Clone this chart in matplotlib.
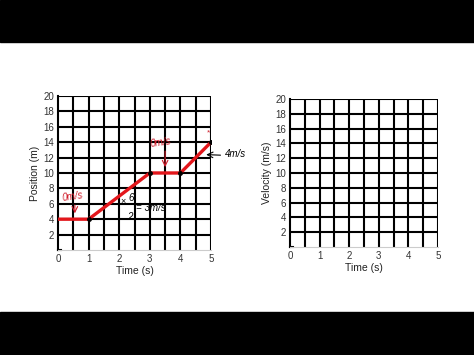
import matplotlib
matplotlib.use("Agg")
import matplotlib.pyplot as plt
from matplotlib.patches import Rectangle
import numpy as np

plt.rcParams['font.family'] = ['Liberation Sans', 'DejaVu Sans']

# position-time data (red line) and marked points
time_s = [0, 1, 3, 4, 5]
position_m = [4, 4, 10, 10, 14]
dot_t = [1, 3, 4, 5]
dot_p = [4, 10, 10, 14]

x_ticks = [0, 1, 2, 3, 4, 5]
y_ticks = [2, 4, 6, 8, 10, 12, 14, 16, 18, 20]

fig = plt.figure(figsize=(4.74, 3.55), dpi=100)
fig.patch.set_facecolor('white')

# black letterbox bars
fig.add_artist(Rectangle((0, 0.8817), 1, 0.1183, transform=fig.transFigure, color='black', zorder=10))
fig.add_artist(Rectangle((0, 0), 1, 0.1211, transform=fig.transFigure, color='black', zorder=10))


def grid_axes(rect, ylabel):
    ax = fig.add_axes(rect)
    ax.set_xlim(0, 5)
    ax.set_ylim(0, 20)
    for xv in np.arange(0.5, 5.01, 0.5):
        ax.axvline(xv, color='black', lw=1.5, zorder=1)
    for yv in y_ticks:
        ax.axhline(yv, color='black', lw=1.5, zorder=1)
    for s in ['top', 'right']:
        ax.spines[s].set_visible(False)
    ax.spines['left'].set_linewidth(1.5)
    ax.spines['bottom'].set_color('#cccccc')
    ax.spines['bottom'].set_linewidth(0.8)
    ax.plot([0, 0.1], [0, 0], color='black', lw=1.5, clip_on=False)
    ax.set_xticks(x_ticks)
    ax.set_yticks(y_ticks)
    ax.tick_params(length=0, labelsize=7, labelcolor='#333333', pad=3)
    ax.set_xlabel('Time (s)', fontsize=7.5, color='#222222', labelpad=1)
    ax.set_ylabel(ylabel, fontsize=7.5, color='#222222', labelpad=2)
    return ax


ax1 = grid_axes([0.1224, 0.2958, 0.3228, 0.4338], 'Position (m)')
ax2 = grid_axes([0.6118, 0.3042, 0.3122, 0.4169], 'Velocity (m/s)')

# red position line
ax1.plot(time_s, position_m, color='#e3161b', lw=2.4, zorder=3, solid_capstyle='butt')
ax1.plot(dot_t, dot_p, 'o', color='black', ms=2.5, zorder=4)

# handwritten style notes
red = '#d01c2a'
ax1.text(0.1, 6.4, '0m/s', color=red, fontsize=7, rotation=8, style='italic', zorder=5)
ax1.annotate('', xy=(0.55, 4.4), xytext=(0.55, 6.2),
             arrowprops=dict(arrowstyle='->', color=red, lw=0.8), zorder=5)
ax1.text(3.0, 13.4, '0m/s', color=red, fontsize=7, rotation=8, style='italic', zorder=5)
ax1.annotate('', xy=(3.5, 10.4), xytext=(3.5, 13.2),
             arrowprops=dict(arrowstyle='->', color=red, lw=0.8), zorder=5)
ax1.text(4.85, 15.0, '*', color=red, fontsize=6, zorder=5)
ax1.text(2.05, 6.0, '×', color='black', fontsize=6.5, zorder=5)
ax1.text(2.3, 6.4, '6', color='black', fontsize=7, style='italic', zorder=5)
ax1.text(2.25, 3.9, '2', color='black', fontsize=7, style='italic', zorder=5)
ax1.text(2.55, 5.1, '= 3m/s', color='black', fontsize=7, style='italic', zorder=5)
ax1.text(5.45, 12.1, '4m/s', color='black', fontsize=7, style='italic', zorder=5, clip_on=False)
ax1.annotate('', xy=(4.75, 12.4), xytext=(5.4, 12.3),
             arrowprops=dict(arrowstyle='->', color='black', lw=0.8), annotation_clip=False)

fig.savefig('out.png', dpi=100)
